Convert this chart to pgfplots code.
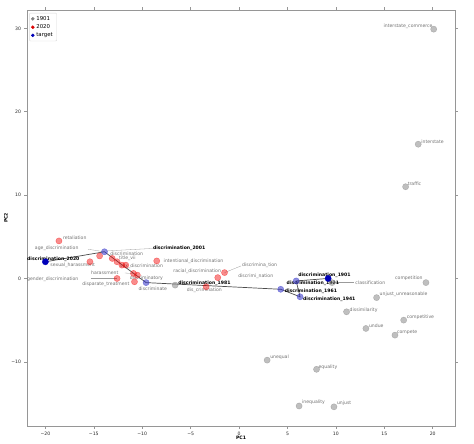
\documentclass[border=0pt]{standalone}
\usepackage{fontspec}
\setmainfont{DejaVu Sans}
\usepackage{pgfplots}
\usepackage{pgfplotstable}
\pgfplotsset{compat=1.18}
\definecolor{lblgray}{RGB}{112,112,112}
\definecolor{spine}{RGB}{150,150,150}
\definecolor{midblue}{RGB}{50,50,200}
\definecolor{darkblue}{RGB}{0,0,185}
\definecolor{legred}{RGB}{220,0,0}
\newcommand{\lf}{\fontsize{4.6}{5.2}\selectfont}
\newcommand{\legf}{\fontsize{5.4}{6}\selectfont}

\pgfplotstableread{
x y
20.1 29.9
18.5 16.1
17.2 11.0
19.3 -0.5
9.6 -0.5
14.2 -2.3
11.1 -4.0
17.0 -5.0
13.1 -6.0
16.1 -6.8
2.9 -9.8
8.0 -10.9
6.2 -15.3
9.8 -15.4
-6.6 -0.8
}\grayPts

\pgfplotstableread{
x y
-18.6 4.5
-15.4 2.0
-14.4 2.7
-13.1 2.4
-12.6 2.0
-12.1 1.6
-11.7 1.6
-12.6 0.0
-10.9 0.6
-10.5 0.4
-10.8 -0.4
-8.5 2.1
-1.5 0.7
-2.2 0.1
-3.4 -1.0
}\redPts

\pgfplotstableread{
x y
-20.0 2.0
-13.9 3.2
-9.6 -0.5
4.3 -1.3
6.3 -2.2
5.9 -0.3
9.2 0.0
}\targetPath

\pgfplotstableread{
x y
-13.9 3.2
-9.6 -0.5
4.3 -1.3
6.3 -2.2
5.9 -0.3
}\targetMid

\pgfplotstableread{
x y
-20.0 2.0
9.2 0.0
}\targetEnd

\begin{document}
\begin{tikzpicture}
\begin{axis}[
  scale only axis, width=428pt, height=416pt,
  xmin=-21.9, xmax=22.3, ymin=-17.7, ymax=32.2,
  axis line style={spine, line width=0.6pt},
  tick align=outside, major tick length=2.5pt,
  tick style={spine, line width=0.5pt},
  xtick={-20,-15,-10,-5,0,5,10,15,20},
  xticklabels={−20,−15,−10,−5,0,5,10,15,20},
  ytick={-10,0,10,20,30},
  yticklabels={−10,0,10,20,30},
  ticklabel style={font=\lf, text=black!85},
  xlabel={\textbf{PC1}}, ylabel={\textbf{PC2}},
  label style={font=\lf},
  xlabel style={at={(axis description cs:0.5,0)}, anchor=center, yshift=-12pt},
  ylabel style={at={(axis description cs:0,0.5)}, anchor=center, yshift=21pt},
  clip=false,
  legend style={at={(0.005,0.993)}, anchor=north west, font=\legf,
    draw=black!15, rounded corners=1pt, inner xsep=2pt, inner ysep=1pt, row sep=-1.2pt,
    fill=white},
  legend cell align=left,
]
\addlegendimage{only marks, mark=*, mark size=1.5pt, gray}
\addlegendentry{1901}
\addlegendimage{only marks, mark=*, mark size=1.5pt, legred}
\addlegendentry{2020}
\addlegendimage{only marks, mark=*, mark size=1.5pt, darkblue}
\addlegendentry{target}

% leader lines
\addplot[lblgray!70, line width=0.3pt, forget plot] coordinates {(-13.7,3.3) (-8.9,3.6)};
\addplot[lblgray!70, line width=0.3pt, forget plot] coordinates {(9.6,-0.5) (11.9,-0.5)};
\addplot[lblgray!70, line width=0.3pt, forget plot] coordinates {(-1.5,0.7) (0.2,1.5)};
\addplot[lblgray!70, line width=0.3pt, forget plot] coordinates {(-15.6,3.5) (-13.9,3.2)};
\addplot[lblgray!70, line width=0.3pt, forget plot] coordinates {(-15.3,0.0) (-12.6,0.0)};
\addplot[lblgray!70, line width=0.3pt, forget plot] coordinates {(-11.8,0.65) (-10.9,0.6)};

% trajectory
\addplot[black!70, line width=0.7pt, forget plot] table {\targetPath};

\addplot[only marks, mark=*, mark size=3.1pt, gray, opacity=0.5, forget plot] table {\grayPts};
\addplot[only marks, mark=*, mark size=3.1pt, red!95!black, opacity=0.45, forget plot] table {\redPts};
\addplot[only marks, mark=*, mark size=3.1pt, midblue, opacity=0.55, forget plot] table {\targetMid};
\addplot[only marks, mark=*, mark size=3.1pt, darkblue, forget plot] table {\targetEnd};

% gray labels (1901 space)
\begin{scope}[every node/.style={font=\lf, text=lblgray, inner sep=0pt}]
\node[anchor=east] at (axis cs:20.0,30.2) {interstate\_commerce};
\node[anchor=west] at (axis cs:18.8,16.4) {interstate};
\node[anchor=west] at (axis cs:17.4,11.3) {traffic};
\node[anchor=west] at (axis cs:16.1,0.06) {competition};
\node[anchor=west] at (axis cs:12.0,-0.5) {classification};
\node[anchor=west] at (axis cs:14.5,-1.9) {unjust\_unreasonable};
\node[anchor=west] at (axis cs:11.4,-3.8) {dissimilarity};
\node[anchor=west] at (axis cs:17.3,-4.7) {competitive};
\node[anchor=west] at (axis cs:13.4,-5.7) {undue};
\node[anchor=west] at (axis cs:16.3,-6.5) {compete};
\node[anchor=west] at (axis cs:3.2,-9.4) {unequal};
\node[anchor=west] at (axis cs:8.2,-10.6) {equality};
\node[anchor=west] at (axis cs:6.5,-14.9) {inequality};
\node[anchor=west] at (axis cs:10.1,-15.0) {unjust};
% 2020 space labels
\node[anchor=west] at (axis cs:-18.2,4.85) {retaliation};
\node[anchor=west] at (axis cs:-21.1,3.65) {age\_discrimination};
\node[anchor=west] at (axis cs:-19.5,1.6) {sexual\_harassment};
\node[anchor=west] at (axis cs:-13.3,3.0) {discrimination};
\node[anchor=west] at (axis cs:-12.4,2.45) {title\_vii};
\node[anchor=west] at (axis cs:-12.3,1.4) {sex\_discrimination};
\node[anchor=west] at (axis cs:-15.3,0.65) {harassment};
\node[anchor=west] at (axis cs:-11.3,0.05) {discriminatory};
\node[anchor=west] at (axis cs:-21.9,-0.05) {gender\_discrimination};
\node[anchor=west] at (axis cs:-16.2,-0.65) {disparate\_treatment};
\node[anchor=west] at (axis cs:-10.4,-1.25) {discriminate};
\node[anchor=west] at (axis cs:-7.8,2.1) {intentional\_discrimination};
\node[anchor=west] at (axis cs:-6.8,0.9) {racial\_discrimination};
\node[anchor=west] at (axis cs:0.3,1.6) {discrimina\_tion};
\node[anchor=west] at (axis cs:-0.1,0.2) {discrimi\_nation};
\node[anchor=west] at (axis cs:-5.4,-1.4) {dis\_crimination};
\end{scope}
% target labels
\begin{scope}[every node/.style={font=\lf\bfseries, text=black, inner sep=0pt}]
\node[anchor=west] at (axis cs:-21.9,2.3) {discrimination\_2020};
\node[anchor=west] at (axis cs:-8.9,3.65) {discrimination\_2001};
\node[anchor=west] at (axis cs:-6.3,-0.55) {discrimination\_1981};
\node[anchor=west] at (axis cs:4.7,-1.6) {discrimination\_1961};
\node[anchor=west] at (axis cs:6.6,-2.55) {discrimination\_1941};
\node[anchor=west] at (axis cs:4.9,-0.55) {discrimination\_1921};
\node[anchor=west] at (axis cs:6.1,0.4) {discrimination\_1901};
\end{scope}
\end{axis}
\path (current axis.south west) ++(-27pt,-17pt);
\path (current axis.north east) ++(19pt,10pt);
\end{tikzpicture}
\end{document}
